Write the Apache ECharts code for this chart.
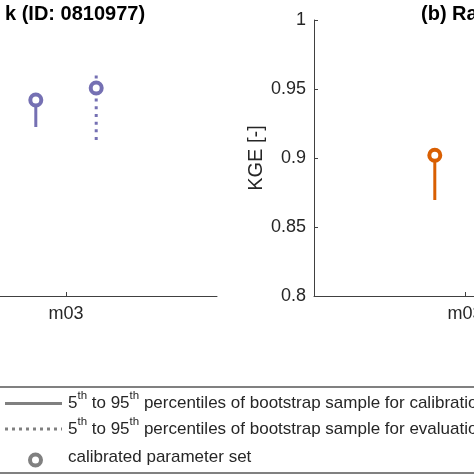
<!DOCTYPE html>
<html><head><meta charset="utf-8">
<script src="https://cdn.jsdelivr.net/npm/echarts@6/dist/echarts.min.js"></script>
<style>html,body{margin:0;padding:0;background:#fff}#c{width:474px;height:474px}</style>
</head><body><div id="c"></div>
<script>
// ---- data ----
const categories = ['m03'];
const panelTitles = ['k (ID: 0810977)', '(b) Ra'];
const yTickLabels = ['0.8', '0.85', '0.9', '0.95', '1'];
// panel (a) – purple
const aCalibLow = [0.9225];
const aCalibHigh = [0.942];
const aCalibrated = [0.942];
const aEvalLow = [0.913];
const aEvalHigh = [0.9625];
const aEvaluated = [0.9507];
// panel (b) – orange
const bCalibLow = [0.8696];
const bCalibHigh = [0.902];
const bCalibrated = [0.902];

const legendTexts = [
  ['5', 'th', ' to 95', 'th', ' percentiles of bootstrap sample for calibration'],
  ['5', 'th', ' to 95', 'th', ' percentiles of bootstrap sample for evaluation'],
  ['calibrated parameter set']
];

// ---- styling ----
const FONT = '"Liberation Sans", Arial, sans-serif';
const PURPLE = '#7570b3', ORANGE = '#d95f02', GREY = '#808080';
const AX = '#404040', TXT = '#262626';
const calibOffset = -0.1, evalOffset = 0.1;

const chart = echarts.init(document.getElementById('c'), null, {renderer: 'canvas'});

function xAxisDef(gi) {
  return {
    type: 'value', gridIndex: gi, min: 0.5, max: 1.5,
    axisLine: {show: true, lineStyle: {color: AX, width: 1}},
    axisTick: {show: true, inside: true, length: 4, customValues: [1], lineStyle: {color: AX}},
    axisLabel: {show: true, customValues: [1], margin: 9, color: TXT, fontFamily: FONT, fontSize: 18,
      formatter: v => Math.abs(v - 1) < 1e-6 ? categories[0] : ''},
    splitLine: {show: false}
  };
}
function yAxisDef(gi, name) {
  return {
    type: 'value', gridIndex: gi, min: 0.8, max: 1, interval: 0.05,
    name: name, nameLocation: 'middle', nameGap: 48, nameRotate: 90, nameMoveOverlap: false,
    nameTextStyle: {color: TXT, fontFamily: FONT, fontSize: 20},
    axisLine: {show: true, lineStyle: {color: AX, width: 1}},
    axisTick: {show: true, inside: true, length: 4, lineStyle: {color: AX}},
    axisLabel: {show: true, margin: 8, color: TXT, fontFamily: FONT, fontSize: 18,
      formatter: v => yTickLabels[Math.round((v - 0.8) / 0.05)]},
    splitLine: {show: false}
  };
}
function stem(gi, low, high, color, dashed, off, name) {
  return {
    type: 'line', name: name, xAxisIndex: gi, yAxisIndex: gi, symbol: 'none', z: 2,
    data: [[1 + off, low[0]], [1 + off, high[0]]],
    lineStyle: {color: color, width: 3, type: dashed ? [3, 4.7] : 'solid', cap: 'butt'},
    silent: true, animation: false
  };
}
function dot(gi, vals, color, off) {
  return {
    type: 'scatter', name: 'calibrated parameter set', xAxisIndex: gi, yAxisIndex: gi, z: 5,
    data: vals.map(v => [1 + off, v]), symbol: 'circle', symbolSize: 11,
    itemStyle: {color: '#fff', borderColor: color, borderWidth: 4, opacity: 1},
    animation: false
  };
}

function legendRich(parts) {
  return parts.map(p => (p === 'th' ? '{s|' + p + '}' : '{n|' + p + '}')).join('');
}
const richStyle = {
  n: {fontSize: 17, fontFamily: FONT, fill: TXT, lineHeight: 22, verticalAlign: 'bottom'},
  s: {fontSize: 11.5, fontFamily: FONT, fill: TXT, lineHeight: 12, verticalAlign: 'top'}
};

chart.setOption({
  animation: false,
  backgroundColor: '#fff',
  title: [
    {text: panelTitles[0], left: 0, top: -1, textStyle: {fontFamily: FONT, fontSize: 20, fontWeight: 'bold', color: '#000'}},
    {text: panelTitles[1], left: 416, top: -1, textStyle: {fontFamily: FONT, fontSize: 20, fontWeight: 'bold', color: '#000'}}
  ],
  grid: [
    {left: -85, top: 20, width: 302, height: 276, containLabel: false, outerBoundsMode: 'none'},
    {left: 314, top: 20, width: 302, height: 276, containLabel: false, outerBoundsMode: 'none'}
  ],
  xAxis: [xAxisDef(0), xAxisDef(1)],
  yAxis: [yAxisDef(0, 'KGE [-]'), yAxisDef(1, 'KGE [-]')],
  series: [
    stem(0, aCalibLow, aCalibHigh, PURPLE, false, calibOffset, 'calibration'),
    stem(0, aEvalLow, aEvalHigh, PURPLE, true, evalOffset, 'evaluation'),
    dot(0, aCalibrated, PURPLE, calibOffset),
    dot(0, aEvaluated, PURPLE, evalOffset),
    stem(1, bCalibLow, bCalibHigh, ORANGE, false, calibOffset, 'calibration'),
    dot(1, bCalibrated, ORANGE, calibOffset)
  ],
  graphic: [
    {type: 'rect', shape: {x: -3, y: 387, width: 490, height: 86}, style: {fill: 'none', stroke: GREY, lineWidth: 2}, silent: true},
    {type: 'line', shape: {x1: 5, y1: 403.5, x2: 62, y2: 403.5}, style: {stroke: GREY, lineWidth: 3}, silent: true},
    {type: 'line', shape: {x1: 5, y1: 429, x2: 62, y2: 429}, style: {stroke: GREY, lineWidth: 3, lineDash: [3, 4]}, silent: true},
    {type: 'circle', shape: {cx: 35.5, cy: 460, r: 5.5}, style: {fill: '#fff', stroke: GREY, lineWidth: 4}, silent: true},
    {type: 'text', x: 68, y: 401, style: {text: legendRich(legendTexts[0]), rich: richStyle, verticalAlign: 'middle', align: 'left'}, silent: true},
    {type: 'text', x: 68, y: 427, style: {text: legendRich(legendTexts[1]), rich: richStyle, verticalAlign: 'middle', align: 'left'}, silent: true},
    {type: 'text', x: 68, y: 457, style: {text: legendTexts[2][0], fontSize: 17, fontFamily: FONT, fill: TXT, verticalAlign: 'middle', align: 'left'}, silent: true}
  ]
});
</script>
</body></html>
